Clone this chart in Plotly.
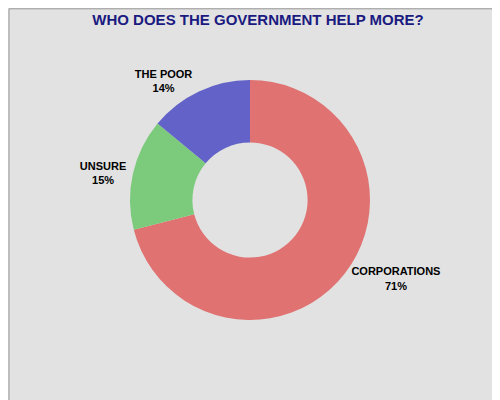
import plotly.graph_objects as go

labels = ["CORPORATIONS", "UNSURE", "THE POOR"]
values = [71, 15, 14]
colors = ["#e07272", "#7cca7c", "#6262c8"]

fig = go.Figure(go.Pie(
    labels=labels, values=values, hole=0.48, sort=False, direction="clockwise", rotation=0,
    marker=dict(colors=colors, line=dict(width=0)),
    texttemplate="<b>%{label}<br>%{percent:.0%}</b>", textposition="outside",
    textfont=dict(family="Arial", size=11, color="black"),
    domain=dict(x=[0.244, 0.724], y=[0.22, 0.82]), showlegend=False,
))
fig.update_layout(
    width=500, height=400, margin=dict(l=0, r=0, t=0, b=0),
    paper_bgcolor="#e2e2e2",
    title=dict(text="<b>WHO DOES THE GOVERNMENT HELP MORE?</b>", x=0.5, y=0.985, yanchor="top", xanchor="center",
               font=dict(family="Arial", size=15, color="#1a1a80")),
    shapes=[dict(type="rect", xref="paper", yref="paper", x0=0.002, y0=0.002, x1=0.998, y1=0.998,
                 line=dict(color="#999999", width=1))],
)
fig.write_html("out.html")
